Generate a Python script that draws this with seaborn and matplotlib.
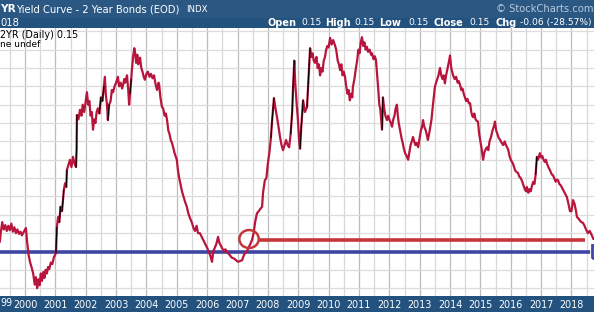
import matplotlib
matplotlib.use("Agg")
import numpy as np
import pandas as pd
import seaborn as sns
import matplotlib.pyplot as plt
from matplotlib.patches import Rectangle, Ellipse

# ---------------- data ----------------
years = [
 1999.17,1999.20,1999.25,1999.30,1999.35,1999.40,1999.45,1999.50,1999.55,1999.60,1999.65,1999.70,1999.75,1999.80,1999.85,1999.90,1999.95,
 2000.03,2000.07,2000.12,2000.17,2000.22,2000.27,2000.32,2000.36,2000.40,2000.44,2000.48,2000.52,2000.56,2000.60,2000.64,2000.68,2000.72,2000.76,2000.80,2000.85,2000.90,2000.95,
 2001.02,2001.05,2001.09,2001.13,2001.17,2001.22,2001.28,2001.32,2001.36,2001.38,2001.43,2001.48,2001.53,2001.58,2001.63,2001.68,2001.70,2001.71,2001.76,2001.81,2001.86,2001.90,2001.95,
 2002.00,2002.04,2002.08,2002.12,2002.16,2002.20,2002.24,2002.28,2002.32,2002.36,2002.40,2002.45,2002.50,2002.55,2002.60,2002.63,2002.66,2002.70,2002.73,2002.77,2002.82,2002.86,2002.90,2002.95,
 2003.00,2003.06,2003.10,2003.15,2003.20,2003.23,2003.27,2003.30,2003.36,2003.40,2003.43,2003.46,2003.50,2003.52,2003.56,2003.60,2003.63,2003.66,2003.70,2003.73,2003.76,2003.79,2003.83,2003.87,2003.91,2003.95,
 2004.00,2004.05,2004.10,2004.15,2004.20,2004.25,2004.30,2004.35,2004.40,2004.42,2004.46,2004.51,2004.55,2004.60,2004.64,2004.68,2004.72,2004.76,2004.80,2004.84,2004.88,2004.92,2004.96,
 2005.00,2005.04,2005.08,2005.12,2005.17,2005.22,2005.27,2005.33,2005.38,2005.44,2005.50,2005.55,2005.60,2005.65,2005.70,2005.76,2005.82,2005.88,2005.94,
 2006.00,2006.05,2006.10,2006.16,2006.20,2006.25,2006.30,2006.36,2006.40,2006.45,2006.49,2006.55,2006.60,2006.65,2006.70,2006.75,2006.80,2006.85,2006.90,2006.95,
 2007.02,2007.08,2007.15,2007.20,2007.25,2007.31,2007.36,2007.42,2007.48,2007.53,2007.58,2007.64,2007.70,2007.75,2007.81,2007.84,2007.90,2007.95,
 2008.00,2008.05,2008.10,2008.14,2008.20,2008.25,2008.30,2008.35,2008.40,2008.45,2008.50,2008.55,2008.60,2008.65,2008.70,2008.75,2008.80,2008.83,2008.87,2008.90,2008.95,2008.99,
 2009.03,2009.06,2009.10,2009.16,2009.22,2009.29,2009.33,2009.36,2009.39,2009.43,2009.47,2009.51,2009.55,2009.60,2009.64,2009.68,2009.72,2009.76,2009.80,2009.84,2009.88,2009.92,2009.96,
 2010.00,2010.05,2010.10,2010.15,2010.21,2010.25,2010.30,2010.34,2010.38,2010.42,2010.46,2010.50,2010.54,2010.58,2010.62,2010.66,2010.70,2010.74,2010.78,2010.80,2010.85,2010.90,2010.94,2010.98,
 2011.02,2011.06,2011.10,2011.14,2011.18,2011.22,2011.26,2011.30,2011.35,2011.40,2011.43,2011.48,2011.52,2011.56,2011.60,2011.63,2011.67,2011.70,2011.73,2011.76,2011.79,2011.83,2011.87,2011.92,2011.96,
 2012.00,2012.05,2012.09,2012.13,2012.17,2012.21,2012.25,2012.28,2012.31,2012.35,2012.40,2012.44,2012.48,2012.52,2012.57,2012.62,2012.66,2012.70,2012.74,2012.78,2012.82,2012.86,2012.90,2012.95,
 2013.00,2013.04,2013.08,2013.11,2013.15,2013.20,2013.24,2013.27,2013.31,2013.35,2013.39,2013.41,2013.45,2013.50,2013.54,2013.58,2013.62,2013.67,2013.71,2013.75,2013.79,2013.83,2013.87,2013.92,2013.96,
 2014.00,2014.04,2014.07,2014.10,2014.15,2014.20,2014.25,2014.29,2014.33,2014.37,2014.41,2014.45,2014.49,2014.53,2014.57,2014.62,2014.66,2014.70,2014.73,2014.76,2014.80,2014.84,2014.88,2014.92,2014.96,
 2015.00,2015.04,2015.09,2015.13,2015.18,2015.22,2015.26,2015.30,2015.35,2015.40,2015.44,2015.48,2015.52,2015.56,2015.60,2015.65,2015.70,2015.75,2015.80,2015.84,2015.88,2015.92,2015.96,
 2016.00,2016.04,2016.07,2016.11,2016.15,2016.20,2016.24,2016.28,2016.33,2016.38,2016.42,2016.46,2016.50,2016.53,2016.58,2016.62,2016.66,2016.70,2016.74,2016.78,2016.82,2016.86,2016.90,2016.96,
 2017.00,2017.04,2017.08,2017.12,2017.16,2017.19,2017.24,2017.30,2017.35,2017.39,2017.43,2017.48,2017.52,2017.56,2017.60,2017.65,2017.70,2017.75,2017.80,2017.85,2017.90,2017.95,
 2018.00,2018.05,2018.10,2018.15,2018.18,2018.23,2018.28,2018.33,2018.38,2018.43,2018.48,2018.54,2018.60,2018.67,2018.72,
]
spread = [
 0.13,0.25,0.40,0.30,0.36,0.28,0.35,0.29,0.38,0.27,0.33,0.25,0.30,0.24,0.27,0.22,0.26,
 0.32,0.13,-0.05,-0.15,-0.22,-0.30,-0.45,-0.35,-0.50,-0.38,-0.46,-0.30,-0.40,-0.28,-0.36,-0.25,-0.30,-0.21,-0.24,-0.15,-0.17,-0.08,
 -0.02,0.33,0.47,0.40,0.61,0.55,0.84,0.93,0.88,1.11,1.18,1.25,1.15,1.29,1.20,1.15,1.40,1.86,1.80,1.93,1.85,2.00,1.90,
 2.05,2.17,2.00,2.05,1.85,1.90,1.66,1.80,1.75,1.90,1.95,1.88,2.10,2.05,2.25,2.38,2.15,2.00,1.79,2.00,2.05,2.20,2.17,2.25,
 2.30,2.38,2.25,2.30,2.22,2.27,2.35,2.30,2.40,2.20,2.00,2.15,2.35,2.47,2.65,2.77,2.70,2.57,2.68,2.55,2.60,2.64,2.50,2.45,2.38,2.34,
 2.42,2.45,2.38,2.42,2.36,2.40,2.28,2.20,2.30,2.27,2.10,1.97,1.95,1.85,1.88,1.79,1.65,1.60,1.52,1.48,1.42,1.35,1.30,
 1.25,1.10,1.00,0.92,0.82,0.75,0.68,0.61,0.52,0.45,0.39,0.32,0.28,0.35,0.25,0.25,0.20,0.15,0.10,
 0.05,0.00,-0.05,-0.14,0.00,0.05,0.10,0.20,0.12,0.08,0.05,0.00,0.03,0.00,-0.03,-0.05,-0.08,-0.09,-0.10,-0.12,
 -0.14,-0.13,-0.12,-0.06,-0.02,0.00,0.05,0.10,0.16,0.25,0.40,0.52,0.55,0.58,0.61,0.80,0.97,1.00,
 1.20,1.35,1.55,1.79,2.09,1.95,1.83,1.70,1.56,1.45,1.38,1.45,1.52,1.45,1.42,1.60,1.90,2.24,2.60,2.30,2.00,1.79,
 1.50,1.40,1.70,2.06,1.90,1.97,2.30,2.55,2.77,2.65,2.70,2.60,2.57,2.65,2.50,2.55,2.40,2.50,2.45,2.60,2.65,2.75,2.80,
 2.78,2.91,2.82,2.88,2.81,2.75,2.60,2.55,2.47,2.55,2.40,2.45,2.38,2.25,2.15,2.20,2.06,2.15,2.10,2.24,2.35,2.50,2.60,2.75,
 2.70,2.85,2.92,2.80,2.85,2.75,2.79,2.72,2.75,2.68,2.70,2.62,2.66,2.61,2.40,2.24,2.00,1.95,1.80,1.66,2.10,1.95,1.85,1.79,1.85,
 1.80,1.75,1.70,1.80,1.85,1.95,2.00,1.85,1.75,1.66,1.55,1.48,1.40,1.34,1.30,1.25,1.35,1.45,1.50,1.56,1.50,1.45,1.48,1.42,
 1.55,1.65,1.70,1.79,1.70,1.65,1.58,1.52,1.60,1.70,1.80,1.89,2.05,2.24,2.30,2.35,2.40,2.50,2.40,2.35,2.40,2.29,2.40,2.50,2.58,
 2.67,2.50,2.45,2.40,2.35,2.38,2.30,2.32,2.27,2.20,2.22,2.15,2.10,2.05,2.08,2.02,2.02,1.90,1.85,1.83,1.88,1.80,1.78,1.77,1.60,
 1.50,1.40,1.25,1.35,1.40,1.42,1.38,1.50,1.56,1.65,1.70,1.77,1.65,1.60,1.55,1.52,1.48,1.45,1.50,1.45,1.42,1.38,1.30,
 1.25,1.22,1.20,1.15,1.10,1.08,1.07,1.02,1.00,0.95,0.90,0.85,0.82,0.88,0.80,0.85,0.82,0.90,0.95,0.92,1.05,1.29,1.25,1.34,
 1.28,1.30,1.25,1.22,1.25,1.20,1.15,1.10,1.05,1.04,1.00,0.95,0.98,0.97,0.92,0.90,0.86,0.82,0.78,0.74,0.65,0.55,
 0.55,0.70,0.65,0.55,0.47,0.45,0.42,0.40,0.39,0.35,0.30,0.25,0.28,0.22,0.17,
]
year_ticks = list(range(2000, 2019))
year_labels = [str(y) for y in year_ticks]
zero_level = 0.0
current_level = 0.15
line_start_year = 2007.72      # start of red reference line
line_end_year = 2018.45
circle_year, circle_level = 2007.38, 0.17

title_main = "Yield Curve - 2 Year Bonds (EOD)"

# ---------------- figure ----------------
sns.set_style("white")
plt.rcParams["font.family"] = ["DejaVu Sans"]

W, H = 594, 312
fig = plt.figure(figsize=(W / 100, H / 100), dpi=100)
fig.patch.set_facecolor("white")

top_px, bot_px = 28, 296
ax = fig.add_axes([0, (H - bot_px) / H, 1, (bot_px - top_px) / H])
ax.set_facecolor("white")

px_per_year = 30.36
x0 = 2000 - 25 / px_per_year
x1 = 2000 + (W - 25) / px_per_year
ax.set_xlim(x0, x1)
ppu = 73.4
ax.set_ylim((251.5 - bot_px) / ppu, (251.5 - top_px) / ppu)

# grid
ax.set_xticks(year_ticks)
ax.set_xticks([y + 0.5 for y in range(1999, 2019)], minor=True)
ax.set_yticks(np.arange(-0.5, 3.01, 0.25))
ax.grid(True, which="major", axis="x", color="#bcbcbc", linewidth=0.9)
ax.grid(True, which="minor", axis="x", color="#d8d8d8", linewidth=0.9)
ax.grid(True, which="major", axis="y", color="#dcdcdc", linewidth=0.9)
ax.set_axisbelow(True)
for s in ax.spines.values():
    s.set_visible(False)
ax.tick_params(axis="x", which="both", length=0, pad=2.6, labelsize=6.9, labelcolor="white")
ax.tick_params(axis="y", which="both", length=0, labelleft=False)
ax.set_xticklabels(year_labels)

# reference lines
ax.hlines(zero_level, x0, 2018.62, color="#3d47a3", linewidth=2.6, zorder=3)
ax.hlines(current_level, line_start_year, line_end_year, color="#c4373a", linewidth=2.6, zorder=3)
ax.add_patch(Ellipse((circle_year, circle_level), 0.64, 0.245, fill=False,
                     edgecolor="#c4373a", linewidth=1.8, zorder=5))

# data line
df = pd.DataFrame({"year": years, "spread": spread})
sns.lineplot(data=df, x="year", y="spread", ax=ax, color="#b8153d",
             linewidth=1.6, zorder=4, estimator=None, sort=False)

# black on steep up-moves
seg_rows = []
vals = np.array(spread)
for i in range(len(vals) - 1):
    if vals[i + 1] - vals[i] > 0.2:
        seg_rows.append({"year": years[i], "spread": spread[i], "seg": i})
        seg_rows.append({"year": years[i + 1], "spread": spread[i + 1], "seg": i})
seg_df = pd.DataFrame(seg_rows)
sns.lineplot(data=seg_df, x="year", y="spread", units="seg", estimator=None,
             ax=ax, color="black", linewidth=0.8, zorder=4.5, sort=False, legend=False)
ax.set_xlabel("")
ax.set_ylabel("")

# marker box at right edge
ax.add_patch(Rectangle((2018.66, -0.09), 0.3, 0.18, fill=False, edgecolor="#3d47a3",
                       linewidth=2.0, zorder=6, clip_on=False))

# in-plot labels
fig.text(0 / W, 1 - 35 / H, "2YR (Daily) 0.15", fontsize=6.9, va="center", ha="left", color="black")
fig.text(0 / W, 1 - 44.5 / H, "ne undef", fontsize=6.5, va="center", ha="left", color="black")

# header and footer bars
hdr = "#24527e"
fig.add_artist(Rectangle((0, 1 - top_px / H), 1, top_px / H, transform=fig.transFigure,
                         facecolor=hdr, edgecolor="none", zorder=-1))
fig.add_artist(Rectangle((0, 1 - 17.5 / H), 1, 17.5 / H, transform=fig.transFigure,
                         facecolor="#2a5883", edgecolor="none", zorder=-1))
fig.add_artist(Rectangle((0, 0), 1, (H - bot_px) / H, transform=fig.transFigure,
                         facecolor=hdr, edgecolor="none", zorder=-1))

def ftxt(x, y, s, **kw):
    kw.setdefault("color", "white")
    kw.setdefault("va", "center")
    kw.setdefault("fontsize", 7.2)
    fig.text(x / W, 1 - y / H, s, **kw)

ftxt(0, 9, "YR", fontweight="bold", fontsize=7.6)
ftxt(16, 9, title_main, fontsize=7.2)
ftxt(186, 9.5, "INDX", fontsize=6.2)
ftxt(594, 8.5, "\u00a9 StockCharts.com", ha="right", color="#b9c9dc", fontsize=7.2)
ftxt(0, 22.5, "018", fontsize=7.2)
row2 = [(267, "Open", True), (301, "0.15", False), (325, "High", True), (354, "0.15", False),
        (379, "Low", True), (408, "0.15", False), (433, "Close", True), (469, "0.15", False),
        (495, "Chg", True), (520, "-0.06 (-28.57%)", False)]
for x, s, b in row2:
    ftxt(x, 22.5, s, fontweight="bold" if b else "normal", fontsize=7.0 if b else 6.6)
ftxt(0, 303.5, "99", fontsize=6.9)

fig.savefig("out.png", dpi=100)
